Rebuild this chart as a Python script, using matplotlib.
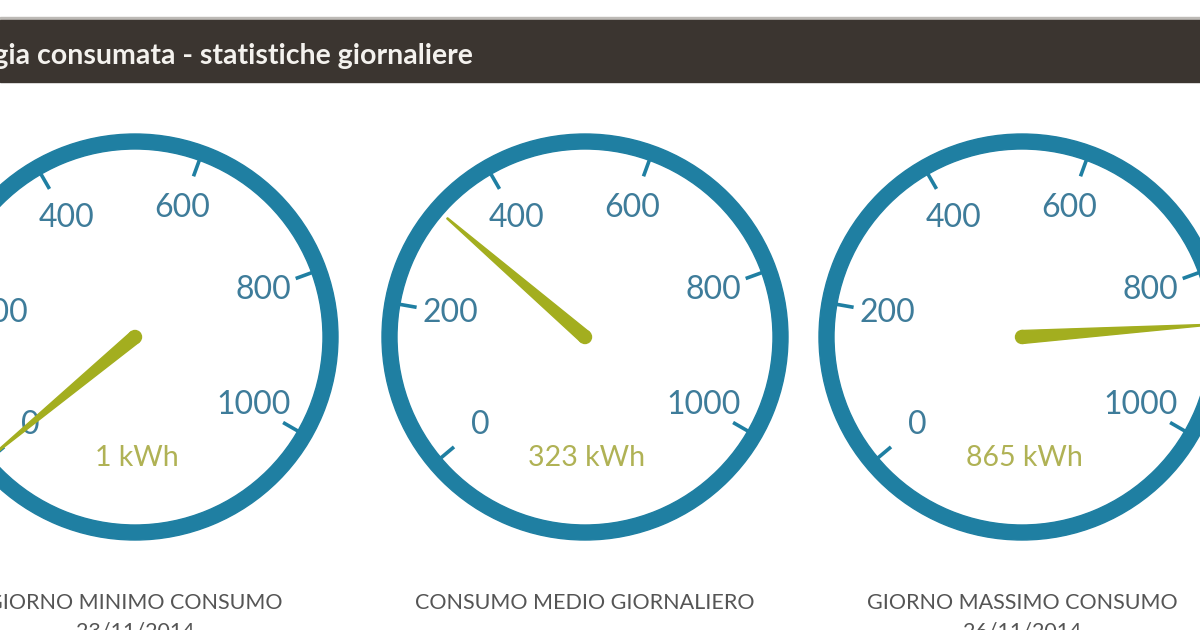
import numpy as np
import matplotlib.pyplot as plt
from matplotlib.patches import Wedge, Circle, Polygon, Rectangle

# Data
title = 'Energia consumata - statistiche giornaliere'
gauge_titles = ['GIORNO MINIMO CONSUMO', 'CONSUMO MEDIO GIORNALIERO', 'GIORNO MASSIMO CONSUMO']
gauge_dates = ['23/11/2014', '', '26/11/2014']
gauge_values = [1, 323, 865]
scale_ticks = [0, 200, 400, 600, 800, 1000]
scale_min, scale_max = 0, 1000
unit = 'kWh'

# Layout (pixels)
centers_x = [135, 585, 1022]
center_y = 337
r_out = 203
ring_w = 15
start_deg, end_deg = 220, -30

ring_color = '#1f7fa2'
label_color = '#3e7c9a'
needle_color = '#a3ae1f'
value_color = '#b0b255'
text_gray = '#555555'

plt.rcParams['font.family'] = ['Lato', 'DejaVu Sans']

fig = plt.figure(figsize=(12, 6.3), dpi=100)
ax = fig.add_axes([0, 0, 1, 1])
ax.set_xlim(0, 1200)
ax.set_ylim(630, 0)
ax.axis('off')


def angle_of(v):
    frac = (v - scale_min) / (scale_max - scale_min)
    return np.radians(start_deg + frac * (end_deg - start_deg))


def polar(cx, cy, r, a):
    return cx + r * np.cos(a), cy - r * np.sin(a)


# title bar
ax.add_patch(Rectangle((0, 17), 1200, 3, color='#bdbab6', zorder=1))
ax.add_patch(Rectangle((0, 20), 1200, 62, color='#3b3530', zorder=1))
ax.text(473, 64, title, color='#f4f2ee', fontsize=20.5, fontweight='bold',
        ha='right', va='baseline', zorder=2)

for cx, name, date, val in zip(centers_x, gauge_titles, gauge_dates, gauge_values):
    # ring
    ax.add_patch(Wedge((cx, center_y), r_out, 0, 360, width=ring_w,
                       color=ring_color, zorder=2))
    # ticks and labels
    for t in scale_ticks:
        a = angle_of(t)
        x0, y0 = polar(cx, center_y, r_out - ring_w + 1, a)
        x1, y1 = polar(cx, center_y, r_out - ring_w - 17, a)
        ax.plot([x0, x1], [y0, y1], color=ring_color, lw=2.6,
                solid_capstyle='butt', zorder=2)
        lx, ly = polar(cx, center_y, 137, a)
        ax.text(lx, ly, str(t), color=label_color, fontsize=23,
                ha='center', va='center', zorder=3)

    # needle
    a = angle_of(val)
    length = 182
    ux, uy = np.cos(a), -np.sin(a)
    px, py = -uy, ux
    w0, w1 = 6.5, 0.6
    tipx, tipy = cx + length * ux, center_y + length * uy
    pts = [(cx + w0 * px, center_y + w0 * py),
           (tipx + w1 * px, tipy + w1 * py),
           (tipx - w1 * px, tipy - w1 * py),
           (cx - w0 * px, center_y - w0 * py)]
    ax.add_patch(Polygon(pts, closed=True, color=needle_color, zorder=4))
    ax.add_patch(Circle((cx, center_y), w0, color=needle_color, zorder=4))

    # value
    ax.text(cx + 2, center_y + 121, f'{val} {unit}', color=value_color,
            fontsize=20.5, ha='center', va='center', zorder=3)

    # caption
    ax.text(cx, 603, name, color=text_gray, fontsize=15.5,
            ha='center', va='center', zorder=3)
    if date:
        ax.text(cx, 632, date, color=text_gray, fontsize=15.5,
                ha='center', va='center', zorder=3)

fig.savefig('out.png', dpi=100)
